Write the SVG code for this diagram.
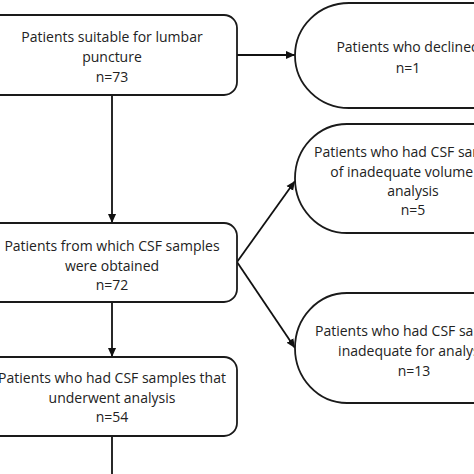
<svg xmlns="http://www.w3.org/2000/svg" width="474" height="474" viewBox="0 0 474 474">
<defs>
<style>
.box{fill:#fff;stroke:#1a1a1a;stroke-width:1.8}
.t{font-family:"Open Sans","Noto Sans",sans-serif;font-size:14px;fill:#222;text-anchor:middle}
.c{stroke:#111;stroke-width:1.8;fill:none}
</style>
<marker id="ah" viewBox="0 0 10 10" refX="10" refY="5" markerWidth="9" markerHeight="9" orient="auto" markerUnits="userSpaceOnUse">
<path d="M0,0.5 L10,5 L0,9.5 z" fill="#111"/>
</marker>
</defs>
<rect width="474" height="474" fill="#fff"/>
<g id="connectors">
<line class="c" x1="112" y1="95" x2="112" y2="223" marker-end="url(#ah)"/>
<line class="c" x1="237" y1="55" x2="295" y2="55" marker-end="url(#ah)"/>
<line class="c" x1="237" y1="262" x2="295" y2="181" marker-end="url(#ah)"/>
<line class="c" x1="237" y1="262" x2="295" y2="348" marker-end="url(#ah)"/>
<line class="c" x1="112" y1="302" x2="112" y2="357" marker-end="url(#ah)"/>
<line class="c" x1="112" y1="436" x2="112" y2="480"/>
</g>
<g id="n1">
<rect class="box" x="-13" y="15" width="250" height="80" rx="13"/>
<text class="t" x="112" y="42">Patients suitable for lumbar</text>
<text class="t" x="112" y="62">puncture</text>
<text class="t" x="112" y="82">n=73</text>
</g>
<g id="n2">
<rect class="box" x="-13" y="223" width="250" height="79" rx="13"/>
<text class="t" x="112" y="251">Patients from which CSF samples</text>
<text class="t" x="112" y="271">were obtained</text>
<text class="t" x="112" y="290">n=72</text>
</g>
<g id="n3">
<rect class="box" x="-13" y="357" width="250" height="79" rx="13"/>
<text class="t" x="112" y="383">Patients who had CSF samples that</text>
<text class="t" x="112" y="403">underwent analysis</text>
<text class="t" x="112" y="422">n=54</text>
</g>
<g id="n4">
<rect class="box" x="295" y="3" width="300" height="105" rx="54" ry="52.5"/>
<text class="t" x="408" y="52">Patients who declined</text>
<text class="t" x="408" y="73">n=1</text>
</g>
<g id="n5">
<rect class="box" x="295" y="124" width="300" height="109" rx="52" ry="54.5"/>
<text class="t" x="413" y="157">Patients who had CSF samples</text>
<text class="t" x="413" y="177">of inadequate volume for</text>
<text class="t" x="413" y="196">analysis</text>
<text class="t" x="413" y="215">n=5</text>
</g>
<g id="n6">
<rect class="box" x="295" y="293" width="300" height="110" rx="52" ry="55"/>
<text class="t" x="414" y="336">Patients who had CSF samples</text>
<text class="t" x="414" y="356">inadequate for analysis</text>
<text class="t" x="414" y="376">n=13</text>
</g>
</svg>
